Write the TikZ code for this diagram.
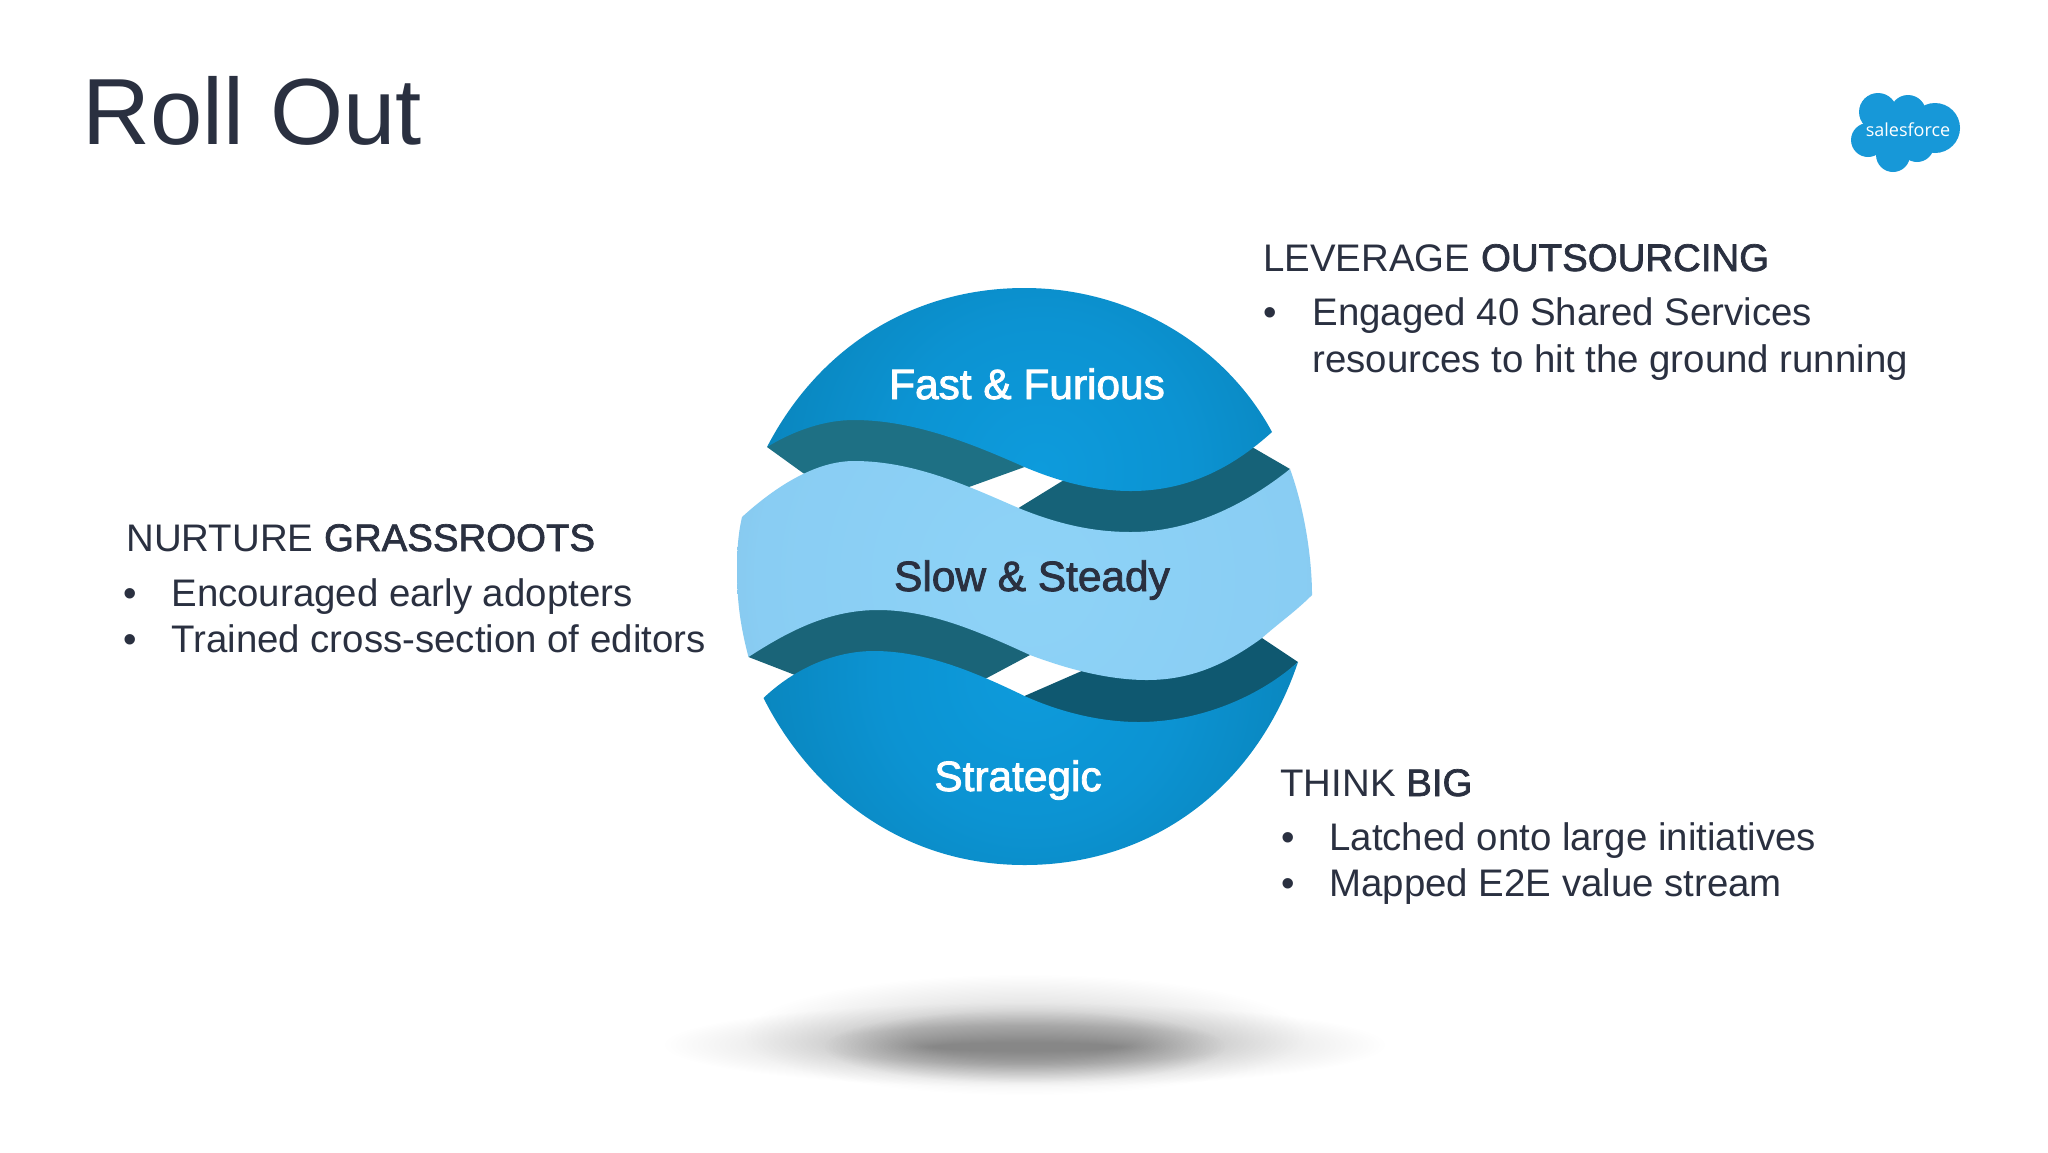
\documentclass[tikz,border=0pt]{standalone}
\usepackage{fontspec}
\setmainfont{Liberation Sans}
\newfontfamily\fakebold[FakeBold=1.8]{Liberation Sans}
\newfontfamily\fakelabel[FakeBold=2.0]{Liberation Sans}
\newfontfamily\logofont{Open Sans}
\definecolor{ink}{HTML}{2A3040}
\definecolor{blobA}{HTML}{0D9BDC}
\definecolor{blobB}{HTML}{0C93D2}
\definecolor{blobC}{HTML}{0880B5}
\definecolor{bandA}{HTML}{8ED3F7}
\definecolor{bandB}{HTML}{89CDF3}
\definecolor{bandD}{HTML}{80BCE0}
\definecolor{bandC}{HTML}{70A6CA}
\definecolor{cloudblue}{HTML}{1798D8}
\definecolor{tealA}{HTML}{1E7084}
\definecolor{tealB}{HTML}{166278}
\definecolor{tealC}{HTML}{1A6478}
\definecolor{tealD}{HTML}{0F5870}
\pgfdeclareradialshading{topblob}{\pgfpoint{0bp}{0bp}}{color(0bp)=(blobA); color(12bp)=(blobB); color(27bp)=(blobC); color(50bp)=(blobC)}
\pgfdeclareradialshading{bandblob}{\pgfpoint{0bp}{0bp}}{color(0bp)=(bandA); color(22bp)=(bandB); color(33bp)=(bandD); color(45bp)=(bandC); color(50bp)=(bandC)}
\tikzset{
  head/.style={font=\fontsize{19.2}{24}\selectfont, text=ink, anchor=base west, inner sep=0pt},
  body/.style={font=\fontsize{19.2}{24}\selectfont, text=ink, anchor=base west, inner sep=0pt},
  bul/.style={font=\fontsize{19.2}{24}\selectfont, text=ink, anchor=base, inner sep=0pt},
  label/.style={font=\fakelabel\fontsize{21.2}{24}\selectfont, anchor=base, inner sep=0pt},
  cloud/.style={fill=cloudblue, draw=none}
}
\begin{document}
\begin{tikzpicture}[x=0.5pt,y=-0.5pt]
\useasboundingbox (0,0) rectangle (2048,1152);
\fill[white] (0,0) rectangle (2048,1152);
% shadow
\foreach \i in {1,...,30}{
  \fill[black,opacity=0.0045] (1025,1045) ellipse ({360*(0.55+0.45*\i/30)} and {42*(0.45+0.55*\i/30)});
  \fill[black,opacity=0.002] (1025,1035) ellipse ({280*(0.4+0.6*\i/30)} and {60*(0.4+0.6*\i/30)});
  \fill[black,opacity=0.009] (1025,1047) ellipse ({200*(0.45+0.55*\i/30)} and {36*(0.1+0.9*\i/30)});
}
% teal ribbons
\fill[tealA] (767,447) -- (803,473) -- (830,490) -- (947,497) -- (969,487) -- (1024.5,467) -- (975,435) .. controls (930,415) and (890,415) .. (854,415) .. controls (825,415) and (795,425) .. (767,447) -- cycle;
\fill[tealB] (1085,467) -- (1018.5,508) -- (1005,517) -- (1200,570) -- (1290,469) -- (1252,447) -- (1200,440) -- cycle;
\fill[tealC] (748.5,657) -- (795,675) -- (820,690) -- (960,692) -- (985,679) -- (1030,655) -- (1000,625) -- (850,590) -- (760,625) -- cycle;
\fill[tealD] (1100,663) -- (1005,704.5) -- (1200,750) -- (1298,662) -- (1262,638) -- (1200,625) -- cycle;
% band
\begin{scope}
\clip (742,517) .. controls (775,487) and (815,461) .. (854,461)
  .. controls (915,461) and (970,487) .. (1018.5,508)
  .. controls (1060,525) and (1095,532) .. (1131,532)
  .. controls (1190,532) and (1245,505) .. (1290,469)
  .. controls (1305,510) and (1312,560) .. (1312,595)
  .. controls (1295,612) and (1280,622) .. (1262,638)
  .. controls (1225,665) and (1190,680) .. (1147,680)
  .. controls (1110,680) and (1070,670) .. (1030,655)
  .. controls (980,632) and (930,610) .. (878,610)
  .. controls (830,610) and (790,630) .. (748.5,657)
  .. controls (740,625) and (737,600) .. (737,570)
  .. controls (737,545) and (739,530) .. (742,517) -- cycle;
\shade[shading=bandblob] (1030,578) circle (310);
\end{scope}
% top blob
\begin{scope}
\clip (767,447) .. controls (795,430) and (825,420) .. (854,420)
  .. controls (915,420) and (975,445) .. (1024.5,467)
  .. controls (1060,482) and (1095,491) .. (1131,491)
  .. controls (1185,491) and (1230,470) .. (1272,432)
  .. controls (1225,345) and (1130,288) .. (1024.5,288)
  .. controls (915,288) and (820,345) .. (767,447) -- cycle;
\shade[shading=topblob] (1040,470) circle (310);
\end{scope}
% strategic
\begin{scope}
\clip (763.5,698) .. controls (795,668) and (835,651) .. (874,651)
  .. controls (925,651) and (975,672) .. (1024.5,696)
  .. controls (1060,712) and (1100,722) .. (1139,722)
  .. controls (1195,722) and (1255,700) .. (1298,662)
  .. controls (1255,790) and (1150,865) .. (1024.5,865)
  .. controls (900,865) and (810,790) .. (763.5,698) -- cycle;
\shade[shading=topblob] (1030,675) circle (310);
\end{scope}
% labels
\node[label,text=white] (fast) at (1027,399) {Fast \& Furious};
\node[label,text=ink] (slow) at (1032,591) {Slow \& Steady};
\node[label,text=white] (strat) at (1018,791) {Strategic};
% title
\node[anchor=base west,inner sep=0pt,text=ink,font=\fontsize{47}{50}\selectfont] (title) at (82,144) {Roll Out};
% logo
\fill[cloud] (1878,112) circle (19);
\fill[cloud] (1908,113) circle (18);
\fill[cloud] (1935,128) circle (25);
\fill[cloud] (1917,145) circle (17);
\fill[cloud] (1893,155) circle (17);
\fill[cloud] (1868,140) circle (17);
\fill[cloud] (1900,132) circle (24);
\node[anchor=center,inner sep=0pt,text=white,font=\logofont\fontsize{9}{11}\selectfont] (logo) at (1908,130) {salesforce};
% top right
\node[head] (h1) at (1263,271) {LEVERAGE {\fakebold OUTSOURCING}};
\node[bul] (b1) at (1270,325) {•};
\node[body] (t1) at (1312,325) {Engaged 40 Shared Services};
\node[body] (t2) at (1312,372) {resources to hit the ground running};
% left
\node[head] (h2) at (126,551) {NURTURE {\fakebold GRASSROOTS}};
\node[bul] (b2) at (130,606) {•};
\node[body] (t3) at (171,606) {Encouraged early adopters};
\node[bul] (b3) at (130,652) {•};
\node[body] (t4) at (171,652) {Trained cross-section of editors};
% bottom right
\node[head] (h3) at (1280,796) {THINK {\fakebold BIG}};
\node[bul] (b4) at (1288,850) {•};
\node[body] (t5) at (1329,850) {Latched onto large initiatives};
\node[bul] (b5) at (1288,896) {•};
\node[body] (t6) at (1329,896) {Mapped E2E value stream};
\end{tikzpicture}
\end{document}
